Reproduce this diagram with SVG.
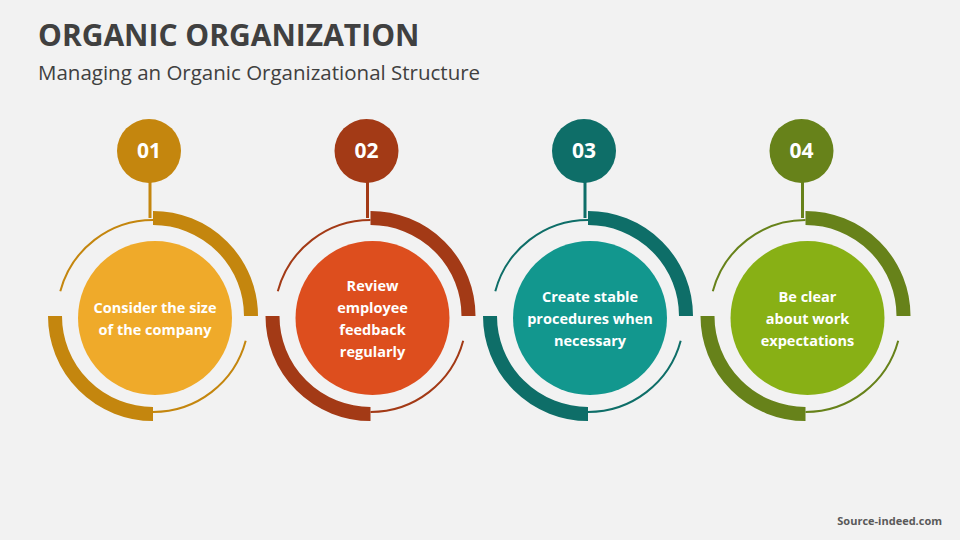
<svg xmlns="http://www.w3.org/2000/svg" width="960" height="540" viewBox="0 0 960 540">
<style>
.t{font-family:"Open Sans","Liberation Sans",sans-serif;}
.title{font-size:30px;font-weight:bold;fill:#404040}
.sub{font-size:20.5px;fill:#404040}
.num{font-size:21px;font-weight:bold;fill:#fff;text-anchor:middle}
.lbl{font-size:14.5px;font-weight:bold;fill:#fff;text-anchor:middle}
.thick{fill:none;stroke-width:14}
.thin{fill:none;stroke-width:2}
</style>
<rect width="960" height="540" fill="#F2F2F2"/>
<text class="t title" x="38" y="46">ORGANIC ORGANIZATION</text>
<text class="t sub" x="38" y="80">Managing an Organic Organizational Structure</text>
<defs>
<g id="ring">
<path class="thick" d="M0 -98 A98 98 0 0 1 98 0"/>
<path class="thick" d="M0 98 A98 98 0 0 1 -98 0"/>
<path class="thin" d="M0 -96 A96 96 0 0 0 -92.7 -24.8"/>
<path class="thin" d="M0 96 A96 96 0 0 0 92.7 24.8"/>
</g>
</defs>
<g id="connectors">
<line x1="150" y1="180" x2="150" y2="218" stroke="#C4860E" stroke-width="3"/>
<line x1="367.5" y1="180" x2="367.5" y2="218" stroke="#A33A16" stroke-width="3"/>
<line x1="585" y1="180" x2="585" y2="218" stroke="#0E6E68" stroke-width="3"/>
<line x1="802.5" y1="180" x2="802.5" y2="218" stroke="#67821A" stroke-width="3"/>
</g>
<g id="node1" transform="translate(153,316)">
<use href="#ring" stroke="#C4860E"/>
<circle cx="-4" cy="-165" r="32" fill="#C4860E"/>
<text class="t num" x="-4" y="-158">01</text>
<circle cx="2" cy="2" r="77" fill="#EFAA2A"/>
<text class="t lbl" x="2" y="-3">Consider the size</text>
<text class="t lbl" x="2" y="19">of the company</text>
</g>
<g id="node2" transform="translate(370.5,316)">
<use href="#ring" stroke="#A33A16"/>
<circle cx="-4" cy="-165" r="32" fill="#A33A16"/>
<text class="t num" x="-4" y="-158">02</text>
<circle cx="2" cy="2" r="77" fill="#DD4E1E"/>
<text class="t lbl" x="2" y="-25">Review</text>
<text class="t lbl" x="2" y="-3">employee</text>
<text class="t lbl" x="2" y="19">feedback</text>
<text class="t lbl" x="2" y="41">regularly</text>
</g>
<g id="node3" transform="translate(588,316)">
<use href="#ring" stroke="#0E6E68"/>
<circle cx="-4" cy="-165" r="32" fill="#0E6E68"/>
<text class="t num" x="-4" y="-158">03</text>
<circle cx="2" cy="2" r="77" fill="#12978E"/>
<text class="t lbl" x="2" y="-14">Create stable</text>
<text class="t lbl" x="2" y="8">procedures when</text>
<text class="t lbl" x="2" y="30">necessary</text>
</g>
<g id="node4" transform="translate(805.5,316)">
<use href="#ring" stroke="#67821A"/>
<circle cx="-4" cy="-165" r="32" fill="#67821A"/>
<text class="t num" x="-4" y="-158">04</text>
<circle cx="2" cy="2" r="77" fill="#88B015"/>
<text class="t lbl" x="2" y="-14">Be clear</text>
<text class="t lbl" x="2" y="8">about work</text>
<text class="t lbl" x="2" y="30">expectations</text>
</g>
<text class="t" x="942" y="525" font-size="11" font-weight="bold" fill="#595959" text-anchor="end">Source-indeed.com</text>
</svg>
